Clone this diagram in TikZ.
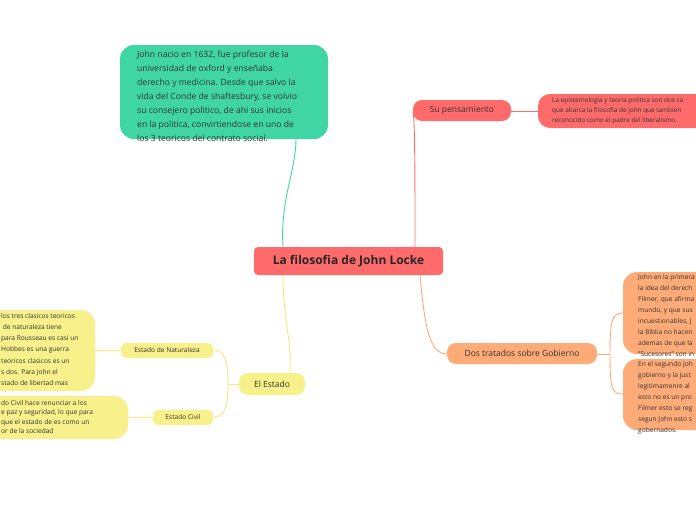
\documentclass[tikz,border=0pt]{standalone}
\usepackage{fontspec}
\setmainfont{Open Sans}
\definecolor{cgreen}{HTML}{3FD6A3}
\definecolor{cred}{HTML}{FF6B6B}
\definecolor{corange}{HTML}{FFAB78}
\definecolor{cyellow}{HTML}{F8F08A}
\definecolor{ctext}{HTML}{333333}
\tikzset{
 box/.style={rounded corners=9pt, inner sep=0pt},
 txt/.style={anchor=north west, align=left, text=ctext, inner sep=0pt},
 lnk/.style={line width=0.9pt},
}
\begin{document}
\begin{tikzpicture}[x=1pt,y=-1pt]
\useasboundingbox (0,0) rectangle (696,520);
\clip (0,0) rectangle (696,520);
% connectors
\coordinate (cgT) at (283,247); \coordinate (cgB) at (283,275);
\draw[lnk,cgreen] (cgT) .. controls (280,200) and (296,170) .. (296,139) coordinate (gB);
\draw[lnk,cyellow!90!orange] (cgB) .. controls (283,320) and (292,340) .. (290,373) coordinate (eT);
\draw[lnk,cred] (415,256) coordinate (cr) .. controls (415,180) and (415,120) .. (413,111) coordinate (sp);
\draw[lnk,corange] (420,275) coordinate (co) .. controls (425,330) and (430,354) .. (447,354) coordinate (dt);
\draw[lnk,cred] (511,111) -- (538,111);
\draw[lnk,corange] (597,354) -- (610,354) coordinate (ob);
\draw[lnk,corange] (ob) .. controls (610,320) and (612,313) .. (623,313);
\draw[lnk,corange] (ob) .. controls (610,390) and (612,394) .. (623,394);
\draw[lnk,cyellow!90!orange] (239,384) -- (228,384) coordinate (yb);
\draw[lnk,cyellow!90!orange] (yb) .. controls (228,355) and (222,350) .. (213,350);
\draw[lnk,cyellow!90!orange] (yb) .. controls (228,412) and (222,417) .. (213,417);
\draw[lnk,cyellow!90!orange] (121,350) -- (95,350);
\draw[lnk,cyellow!90!orange] (153,417) -- (128,417);
% central
\fill[cred,box,rounded corners=4pt] (254,247) rectangle (443,275);
\node[text=black!85,font=\bfseries\fontsize{12}{14}\selectfont] (central) at (348.5,261) {La filosofia de John Locke};
% green
\fill[cgreen,box,rounded corners=14pt] (120,45) rectangle (328,139);
\node[txt,font=\fontsize{8.6}{13.9}\selectfont] (green) at (137,51) {John nacio en 1632, fue profesor de la\\universidad de oxford y enseñaba\\derecho y medicina. Desde que salvo la\\vida del Conde de shaftesbury, se volvio\\su consejero politico, de ahi sus inicios\\en la politica, convirtiendose en uno de\\los 3 teoricos del contrato social.};
% su pensamiento
\fill[cred,box] (413,100) rectangle (511,121);
\node[text=ctext,font=\fontsize{8.5}{10}\selectfont] (sup) at (462,110.5) {Su pensamiento};
\fill[cred,box,rounded corners=12pt] (538,94) rectangle (710,128);
\node[txt,font=\fontsize{6.4}{10}\selectfont] (supt) at (552,97) {La epistemologia y teoria politica son dos ca\\que abarca la filosofia de john que tambien\\reconocido como el padre del liberalismo.};
% dos tratados
\fill[corange,box] (447,343) rectangle (597,364);
\node[text=ctext,font=\fontsize{8.5}{10}\selectfont] (dos) at (522,353.5) {Dos tratados sobre Gobierno};
\fill[corange,box,rounded corners=14pt] (623,272) rectangle (720,354);
\node[txt,font=\fontsize{6.6}{11}\selectfont] (o1) at (638,274) {John en la primera\\la idea del derech\\Filmer, que afirma\\mundo, y que sus\\incuestionables, J\\la Biblia no hacen\\ademas de que la\\"Sucesores" son in};
\fill[corange,box,rounded corners=14pt] (623,359) rectangle (720,430);
\node[txt,font=\fontsize{6.6}{11}\selectfont] (o2) at (638,361) {En el segundo Joh\\gobierno y la just\\legitimamenre al\\esto no es un pro\\Filmer esto se reg\\segun John esto s\\gobernados.};
% el estado
\fill[cyellow,box] (239,373) rectangle (305,395);
\node[text=ctext,font=\fontsize{8.5}{10}\selectfont] (est) at (272,384) {El Estado};
\fill[cyellow,box,rounded corners=5pt] (121,343) rectangle (213,358);
\node[text=ctext,font=\fontsize{6.6}{8}\selectfont] (nat) at (167,350.5) {Estado de Naturaleza};
\fill[cyellow,box,rounded corners=5pt] (153,410) rectangle (213,425);
\node[text=ctext,font=\fontsize{6.6}{8}\selectfont] (civ) at (183,417.5) {Estado Civil};
\fill[cyellow,box,rounded corners=14pt] (-30,310) rectangle (95,391);
\node[txt,font=\fontsize{6.6}{11.2}\selectfont] (y1) at (1,313) {los tres clasicos teoricos\\\ de naturaleza tiene\\para Rousseau es casi un\\Hobbes es una guerra\\teoricos clasicos es un\\s dos. Para John el\\stado de libertad mas};
\fill[cyellow,box,rounded corners=14pt] (-30,396) rectangle (128,439);
\node[txt,font=\fontsize{6.6}{9.5}\selectfont] (y2) at (1,400) {do Civil hace renunciar a los\\e paz y seguridad, lo que para\\que el estado de es como un\\or de la sociedad};
\end{tikzpicture}
\end{document}
